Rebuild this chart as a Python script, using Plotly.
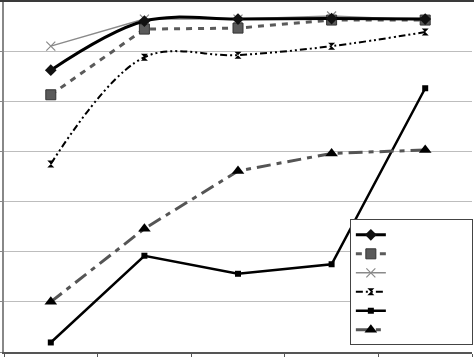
import plotly.graph_objects as go

categories = ["1", "2", "3", "4", "5"]
s1 = [86.2, 96.0, 96.4, 96.5, 96.4]
s2 = [81.3, 94.4, 94.6, 96.2, 96.2]
s3 = [91.0, 96.4, 96.4, 97.0, 96.2]
s4 = [67.5, 88.8, 89.2, 91.0, 93.8]
s5 = [31.9, 49.2, 45.6, 47.5, 82.6]
s6 = [40.0, 54.6, 66.1, 69.6, 70.3]
series_names = ["\u00a0" * 27] * 6

fig = go.Figure()
fig.add_trace(go.Scatter(x=categories, y=s3, name=series_names[2], mode="lines+markers",
                         line=dict(color="#8a8a8a", width=1.5),
                         marker=dict(symbol="x-thin-open", size=9, color="#8a8a8a",
                                     line=dict(color="#8a8a8a", width=1.2))))
fig.add_trace(go.Scatter(x=categories, y=s2, name=series_names[1], mode="lines+markers",
                         line=dict(color="#5a5a5a", width=3, dash="6px,6px"),
                         marker=dict(symbol="square", size=10, color="#5a5a5a",
                                     line=dict(color="#333", width=1))))
fig.add_trace(go.Scatter(x=categories, y=s1, name=series_names[0], mode="lines+markers",
                         line=dict(color="#000", width=3, shape="spline"),
                         marker=dict(symbol="diamond", size=9, color="#111")))
fig.add_trace(go.Scatter(x=categories, y=s4, name=series_names[3], mode="lines+markers",
                         line=dict(color="#000", width=2, shape="spline",
                                   dash="7px,3px,2px,3px,2px,3px"),
                         marker=dict(symbol="hourglass", size=7, color="#000")))
fig.add_trace(go.Scatter(x=categories, y=s5, name=series_names[4], mode="lines+markers",
                         line=dict(color="#000", width=2.5),
                         marker=dict(symbol="square", size=6, color="#000")))
fig.add_trace(go.Scatter(x=categories, y=s6, name=series_names[5], mode="lines+markers",
                         line=dict(color="#555", width=3, dash="14px,6px,5px,6px"),
                         marker=dict(symbol="triangle-up", size=11, color="#000")))

# legend order like reference
order = [2, 1, 0, 3, 4, 5]
for rank, idx in enumerate(order):
    fig.data[idx].legendrank = rank + 1

fig.update_layout(
    width=474, height=357,
    margin=dict(l=4, r=2, t=1, b=5, autoexpand=False),
    plot_bgcolor="white", paper_bgcolor="white",
    font=dict(family="Liberation Sans, Arial", size=10, color="#000"),
    showlegend=True,
    legend=dict(x=0.739, y=0.378, xanchor="left", yanchor="top",
                bgcolor="white", bordercolor="#444", borderwidth=1,
                tracegroupgap=0, itemwidth=30),
    xaxis=dict(type="category", range=[-0.5, 4.5], showgrid=False,
               showticklabels=False, ticks="outside", tickson="boundaries",
               ticklen=5, tickcolor="#555", showline=True, linecolor="#555",
               linewidth=1.5, zeroline=False),
    yaxis=dict(range=[30, 100], dtick=10, showgrid=True, gridcolor="#bdbdbd",
               gridwidth=1, showticklabels=False, ticks="outside", ticklen=4,
               tickcolor="#888", showline=True, linecolor="#888", linewidth=1.5,
               zeroline=False),
    yaxis2=dict(range=[30, 100], dtick=10, overlaying="y", side="right",
                showgrid=False, showticklabels=False, ticks="outside", ticklen=2,
                tickcolor="#777", showline=False, zeroline=False),
    shapes=[dict(type="rect", xref="paper", yref="paper", x0=-0.02, x1=1.02,
                 y0=0.9971, y1=1.0029, line=dict(width=0), fillcolor="#3a3a3a",
                 layer="above")],
)

fig.write_html("out.html", config={"displayModeBar": False},
               post_script="document.body.style.margin='0px';document.body.style.padding='0px';")
